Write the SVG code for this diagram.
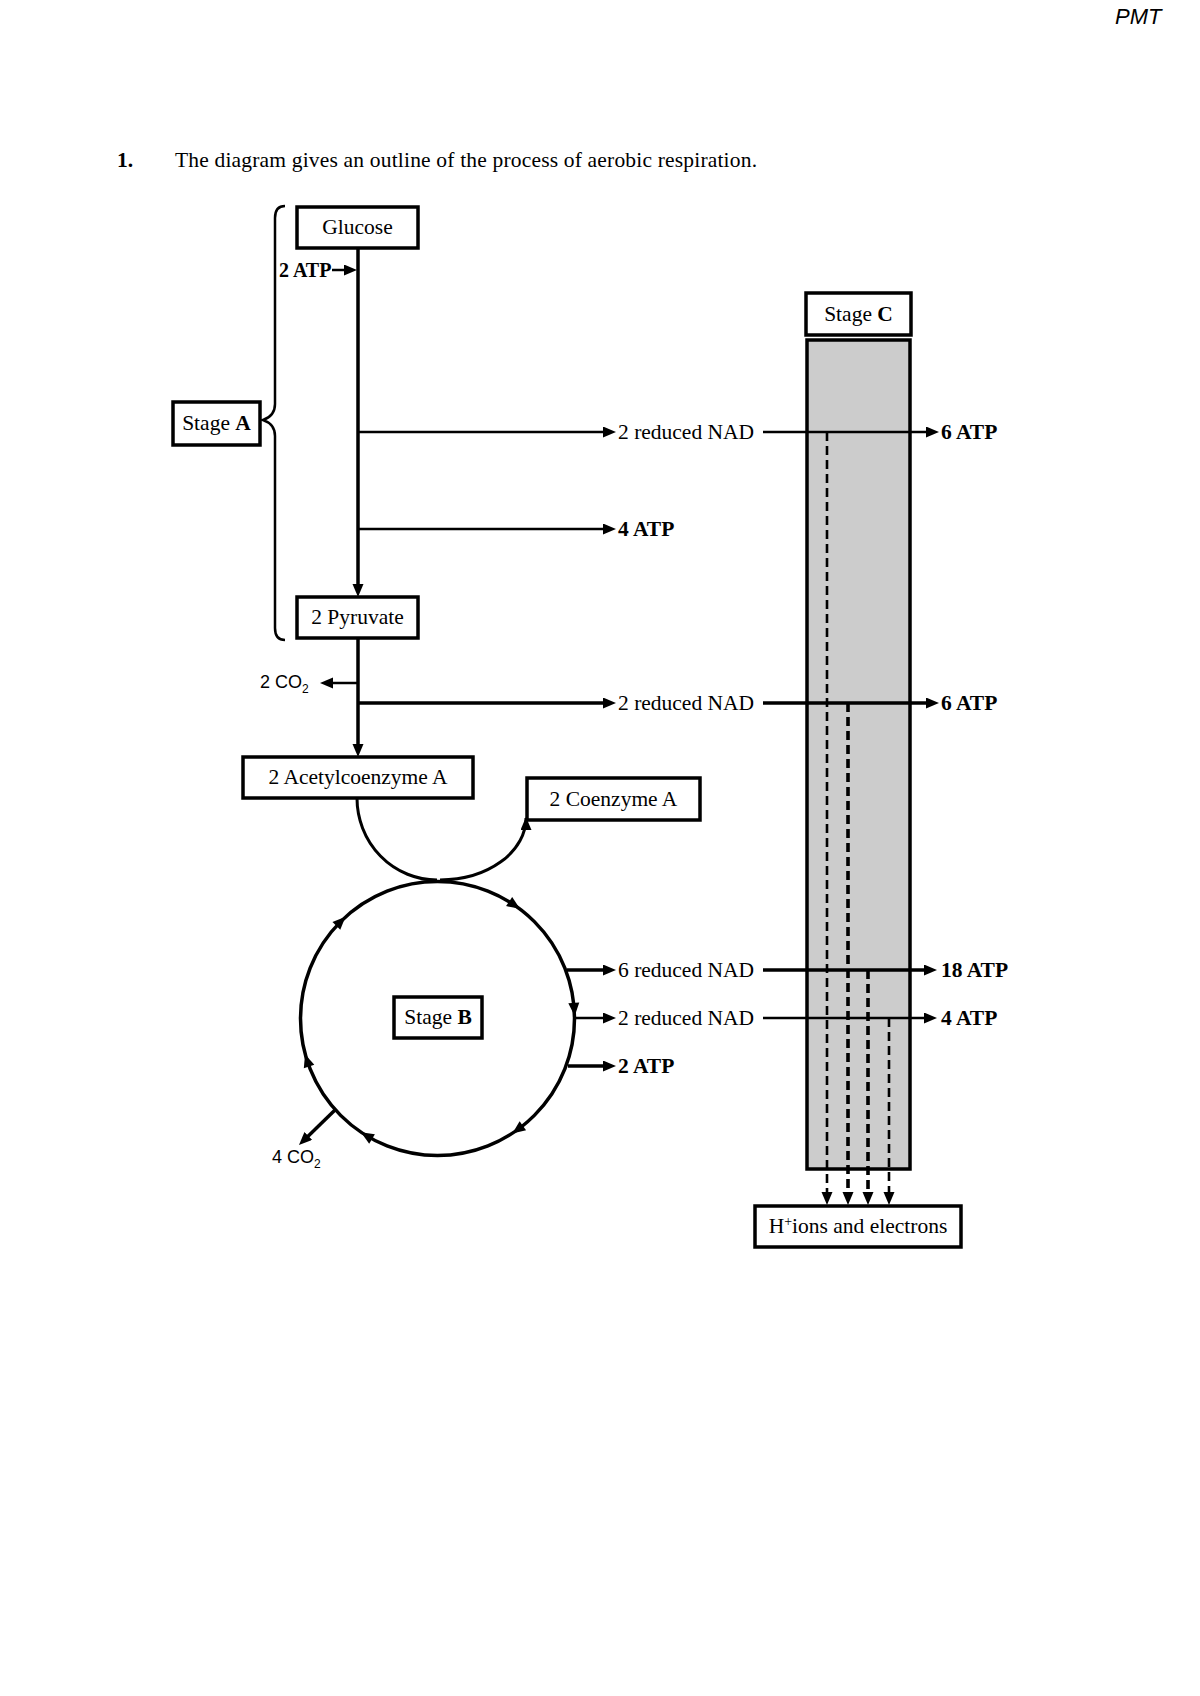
<svg xmlns="http://www.w3.org/2000/svg" width="1200" height="1696" viewBox="0 0 1200 1696">
<style>
text{font-family:"Liberation Serif","Times New Roman",serif;font-size:21.5px;fill:#000}
.b{font-weight:bold}
.c{text-anchor:middle}
.sans{font-family:"Liberation Sans",Arial,sans-serif}
.box{fill:#fff;stroke:#000;stroke-width:3.5}
.ln{fill:none;stroke:#000;stroke-width:2.5}
.tk{fill:none;stroke:#000;stroke-width:3.5}
.ds{fill:none;stroke:#000;stroke-width:2.6;stroke-dasharray:9 5}
.dsk{fill:none;stroke:#000;stroke-width:3.6;stroke-dasharray:9 5}
</style>
<defs>
<marker id="ah" markerUnits="userSpaceOnUse" markerWidth="14" markerHeight="12" refX="5" refY="5.5" orient="auto"><path d="M0,0 L13,5.5 L0,11 z" fill="#000"/></marker>
<marker id="at" markerUnits="userSpaceOnUse" markerWidth="14" markerHeight="12" refX="12" refY="5.5" orient="auto"><path d="M0,0 L13,5.5 L0,11 z" fill="#000"/></marker>
<path id="tri" d="M-6,-5.5 L7,0 L-6,5.5 z" fill="#000"/>
</defs>
<text class="sans" x="1115" y="24" style="font-size:22px;font-style:italic">PMT</text>
<text class="b" x="117" y="167">1.</text>
<text x="175" y="167" textLength="582" lengthAdjust="spacing">The diagram gives an outline of the process of aerobic respiration.</text>

<g id="connectors">
<path class="ln" d="M285,206 Q275,206 275,218 L275,404 Q275,416 263,420 Q275,424 275,436 L275,628 Q275,640 285,640"/>
<line class="tk" x1="358" y1="248" x2="358" y2="589" marker-end="url(#ah)"/>
<line class="ln" x1="332" y1="270" x2="349" y2="270" marker-end="url(#ah)"/>
<line class="ln" x1="358" y1="432" x2="608" y2="432" marker-end="url(#ah)"/>
<line class="ln" x1="358" y1="529" x2="608" y2="529" marker-end="url(#ah)"/>
<line class="tk" x1="358" y1="638" x2="358" y2="749" marker-end="url(#ah)"/>
<line class="ln" x1="358" y1="683" x2="328" y2="683" marker-end="url(#ah)"/>
<line class="tk" x1="358" y1="703" x2="608" y2="703" marker-end="url(#ah)"/>
<path class="ln" style="stroke-width:3" d="M357,798 A80,82 0 0 0 437,880"/>
<path class="ln" style="stroke-width:3" d="M440,880 A86,62 0 0 0 526,818" marker-end="url(#at)"/>
<circle cx="437.5" cy="1018.5" r="137" class="tk"/>
<use href="#tri" transform="translate(514.1,904.9) rotate(34)"/>
<use href="#tri" transform="translate(574.2,1008.9) rotate(86)"/>
<use href="#tri" transform="translate(518,1129.3) rotate(144)"/>
<use href="#tri" transform="translate(366.9,1135.9) rotate(211)"/>
<use href="#tri" transform="translate(307.2,1060.8) rotate(252)"/>
<use href="#tri" transform="translate(340.6,921.6) rotate(315)"/>
<line class="tk" x1="335" y1="1110" x2="304.7" y2="1139.4" marker-end="url(#ah)"/>
<line class="tk" x1="567" y1="970" x2="608" y2="970" marker-end="url(#ah)"/>
<line class="ln" x1="575" y1="1018" x2="608" y2="1018" marker-end="url(#ah)"/>
<line class="tk" x1="568" y1="1066" x2="608" y2="1066" marker-end="url(#ah)"/>
</g>

<g id="stageC-column">
<rect x="807" y="340" width="103" height="829" fill="#cccccc" stroke="#000" stroke-width="3.5"/>
</g>

<g id="connectors-right">
<line class="ln" x1="763" y1="432" x2="931" y2="432" marker-end="url(#ah)"/>
<line class="tk" x1="763" y1="703" x2="931" y2="703" marker-end="url(#ah)"/>
<line class="tk" x1="763" y1="970" x2="929" y2="970" marker-end="url(#ah)"/>
<line class="ln" x1="763" y1="1018" x2="929" y2="1018" marker-end="url(#ah)"/>
<line class="ds" x1="827" y1="432" x2="827" y2="1197" marker-end="url(#ah)"/>
<line class="dsk" x1="848" y1="703" x2="848" y2="1197" marker-end="url(#ah)"/>
<line class="dsk" x1="868" y1="970" x2="868" y2="1197" marker-end="url(#ah)"/>
<line class="ds" x1="889" y1="1018" x2="889" y2="1197" marker-end="url(#ah)"/>
</g>

<g id="glucose"><rect class="box" x="297" y="207" width="121" height="41"/><text class="c" x="357.5" y="234">Glucose</text></g>
<g id="stageA"><rect class="box" x="173" y="402" width="87" height="43"/><text class="c" x="216.5" y="430">Stage <tspan class="b">A</tspan></text></g>
<g id="pyruvate"><rect class="box" x="297" y="597" width="121" height="41"/><text class="c" x="357.5" y="624">2 Pyruvate</text></g>
<g id="acetylcoa"><rect class="box" x="243" y="757" width="230" height="41"/><text class="c" x="358" y="784">2 Acetylcoenzyme A</text></g>
<g id="coenzymeA"><rect class="box" x="527" y="778" width="173" height="42"/><text class="c" x="613.5" y="806">2 Coenzyme A</text></g>
<g id="stageB"><rect class="box" x="394" y="997" width="88" height="41"/><text class="c" x="438" y="1024">Stage <tspan class="b">B</tspan></text></g>
<g id="stageC"><rect class="box" x="806" y="293" width="105" height="42"/><text class="c" x="858.5" y="321">Stage <tspan class="b">C</tspan></text></g>
<g id="hions"><rect class="box" x="755" y="1206" width="206" height="41"/><text class="c" x="858" y="1233">H<tspan dy="-7" style="font-size:14px">+</tspan><tspan dy="7">ions and electrons</tspan></text></g>

<g id="labels">
<text class="b" x="279" y="277" style="font-size:20px">2 ATP</text>
<text x="618" y="439">2 reduced NAD</text>
<text class="b" x="618" y="536">4 ATP</text>
<text x="618" y="710">2 reduced NAD</text>
<text x="618" y="977">6 reduced NAD</text>
<text x="618" y="1025">2 reduced NAD</text>
<text class="b" x="618" y="1073">2 ATP</text>
<text class="b" x="941" y="439">6 ATP</text>
<text class="b" x="941" y="710">6 ATP</text>
<text class="b" x="941" y="977">18 ATP</text>
<text class="b" x="941" y="1025">4 ATP</text>
<text class="sans" x="260" y="688" style="font-size:18px">2 CO<tspan dy="5" style="font-size:12px">2</tspan></text>
<text class="sans" x="272" y="1163" style="font-size:18px">4 CO<tspan dy="5" style="font-size:12px">2</tspan></text>
</g>
</svg>
